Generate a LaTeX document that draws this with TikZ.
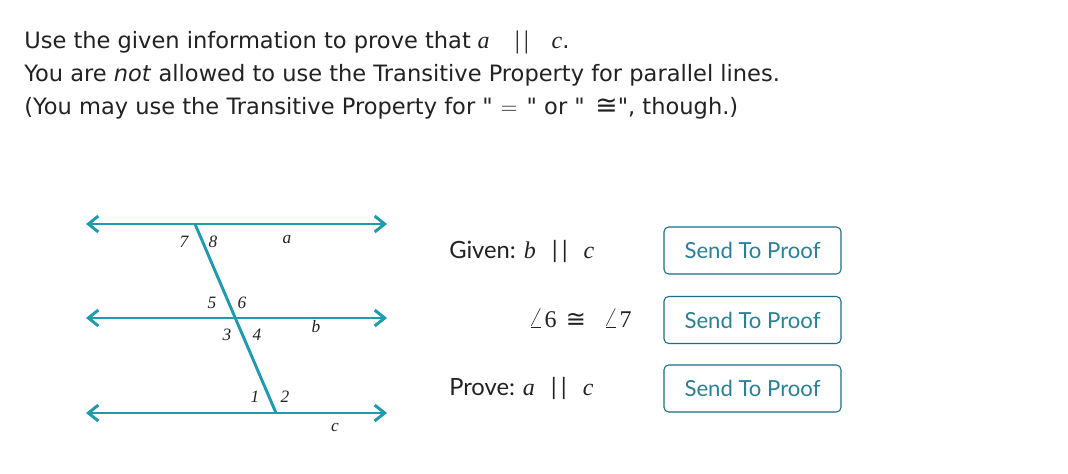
\documentclass[tikz,border=0pt]{standalone}
\usepackage{fontspec}
\setmainfont{DejaVu Sans}
\newfontfamily\lato{Lato}
\newfontfamily\serf{Liberation Serif}
\usetikzlibrary{arrows.meta}
\definecolor{lineteal}{HTML}{1F9AAF}
\definecolor{txt}{HTML}{222222}
\definecolor{btnborder}{HTML}{1B6E83}
\definecolor{btntext}{HTML}{2A8097}
\newcommand{\mvar}[1]{{\serf\itshape\fontsize{18}{20}\selectfont #1}}
\newcommand{\pbar}{{\serf\fontsize{19}{20}\selectfont |\hspace{3pt}|}}
\newcommand{\lbar}{{|\hspace{3pt}|}}
\begin{document}
\begin{tikzpicture}[x=0.75pt,y=-0.75pt,
  top/.style={anchor=base west,inner sep=0pt,text=txt,font=\fontsize{16.9}{20}\selectfont},
  geoline/.style={draw=lineteal,line width=2.2pt,{Straight Barb[length=7.5pt,width=12pt]}-{Straight Barb[length=7.5pt,width=12pt]}},
  trans/.style={draw=lineteal,line width=2.2pt},
  lbl/.style={inner sep=0pt,text=txt,font=\serf\itshape\fontsize{13}{15}\selectfont},
  rtext/.style={anchor=base west,inner sep=0pt,text=txt,font=\lato\fontsize{17.8}{20}\selectfont},
  btn/.style={draw=btnborder,line width=0.8pt,rounded corners=3.5pt,minimum width=132.75pt,minimum height=35.25pt,inner sep=0pt,text=btntext,font=\lato\fontsize{16.6}{18}\selectfont}]
\fill[white] (0,0) rectangle (1068,474);
\useasboundingbox (0,0) rectangle (1068,474);
% instructions
\node[top] (l1) at (24,49) {Use the given information to prove that\hspace{5pt}\mvar{a}\hspace{19pt}\pbar\hspace{17pt}\mvar{c}.};
\node[top] (l2) at (24,82) {You are \textit{not} allowed to use the Transitive Property for parallel lines.};
\node[top] (l3) at (24,115) {(You may use the Transitive Property for \textquotedbl\hspace{6pt}{\fontsize{19}{20}\selectfont$=$}\hspace{7pt}\textquotedbl\ or \textquotedbl\hspace{8pt}{\fontsize{20}{20}\selectfont ≅}\textquotedbl, though.)};
% figure
\coordinate (aL) at (86,224); \coordinate (aR) at (387,224);
\coordinate (bL) at (86,318); \coordinate (bR) at (387,318);
\coordinate (cL) at (86,413); \coordinate (cR) at (387,413);
\coordinate (t1) at (195,224); \coordinate (t2) at (276,413);
\draw[geoline] (aL) -- (aR);
\draw[geoline] (bL) -- (bR);
\draw[geoline] (cL) -- (cR);
\draw[trans] (t1) -- (t2);
\node[lbl] (n7) at (184,242) {7};
\node[lbl] (n8) at (213,242) {8};
\node[lbl] (na) at (287,240) {a};
\node[lbl] (n5) at (212,303) {5};
\node[lbl] (n6) at (242,303) {6};
\node[lbl] (n3) at (227,335) {3};
\node[lbl] (n4) at (257,335) {4};
\node[lbl] (nb) at (316,327) {b};
\node[lbl] (n1) at (255,397) {1};
\node[lbl] (n2) at (285,397) {2};
\node[lbl] (nc) at (335,427) {c};
% given / prove
\node[rtext] (given) at (449,258) {Given:\hspace{6pt}\mvar{b}\hspace{12pt}\lbar\hspace{12pt}\mvar{c}};
\node[anchor=base west,inner sep=0pt,text=txt,font=\serf\fontsize{18}{20}\selectfont] (ang) at (528,327) {{\fontsize{20}{20}\selectfont$\angle$}\hspace{1pt}6\hspace{7pt}{\fontspec{DejaVu Sans}≅}\hspace{13pt}{\fontsize{20}{20}\selectfont$\angle$}\hspace{1pt}7};
\node[rtext] (prove) at (449,395) {Prove:\hspace{6pt}\mvar{a}\hspace{12pt}\lbar\hspace{12pt}\mvar{c}};
\node[btn] (b1) at (752.5,250.5) {Send To Proof};
\node[btn] (b2) at (752.5,320) {Send To Proof};
\node[btn] (b3) at (752.5,388.5) {Send To Proof};
\end{tikzpicture}
\end{document}
